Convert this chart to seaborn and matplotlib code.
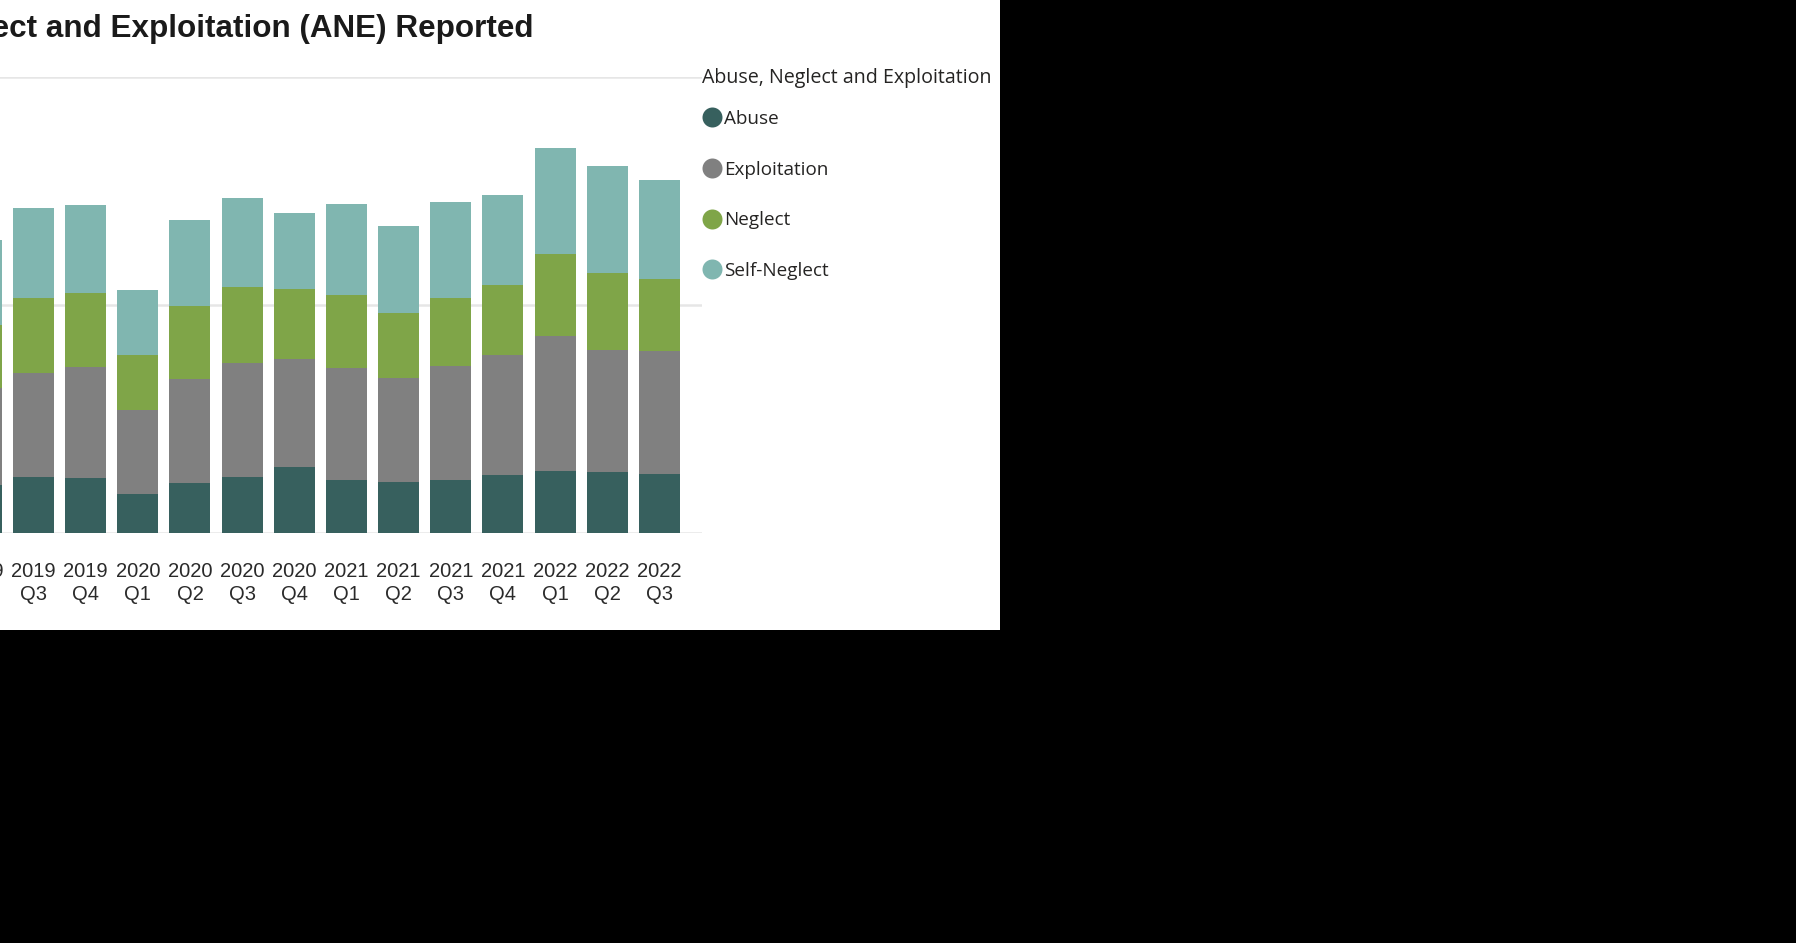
import numpy as np
import pandas as pd
import matplotlib
matplotlib.use("Agg")
import matplotlib.pyplot as plt
from matplotlib import font_manager as fm
from matplotlib.lines import Line2D
from matplotlib.patches import Rectangle
import seaborn as sns

# ---------------- data ----------------
quarters = ["2019 Q2", "2019 Q3", "2019 Q4", "2020 Q1", "2020 Q2", "2020 Q3", "2020 Q4",
            "2021 Q1", "2021 Q2", "2021 Q3", "2021 Q4", "2022 Q1", "2022 Q2", "2022 Q3"]
tick_labels = [q.replace(" ", "\n") for q in quarters]
abuse = [211, 247, 240, 171, 218, 247, 289, 232, 222, 231, 254, 273, 266, 260]
exploitation = [425, 456, 487, 368, 457, 500, 474, 493, 456, 503, 525, 591, 535, 539]
neglect = [276, 326, 325, 243, 320, 331, 306, 320, 288, 296, 307, 358, 339, 313]
self_neglect = [373, 397, 387, 281, 376, 392, 333, 397, 379, 421, 396, 465, 469, 436]
series_names = ["Abuse", "Exploitation", "Neglect", "Self-Neglect"]
series_colors = ["#37605e", "#808080", "#7fa548", "#80b6b0"]
y_ticks = [0, 1000, 2000]
chart_title = "Abuse, Neglect and Exploitation (ANE) Reported"
legend_title = "Abuse, Neglect and Exploitation"

# ---------------- fonts ----------------
names = {f.name for f in fm.fontManager.ttflist}
narrow = "Liberation Sans Narrow" in names
tick_family = "Liberation Sans Narrow" if narrow else "Liberation Sans"
tick_size = 15.4 if narrow else 14.5
leg_family = "Open Sans" if "Open Sans" in names else "DejaVu Sans"

sns.set_theme(style="white")
plt.rcParams["font.family"] = ["Liberation Sans", "DejaVu Sans"]

W, H, DPI = 1796, 943, 100
fig = plt.figure(figsize=(W / DPI, H / DPI), dpi=DPI, facecolor="black")

# white visible panel
fig.add_artist(Rectangle((0, 1 - 630 / H), 1000 / W, 630 / H, transform=fig.transFigure,
                         facecolor="white", edgecolor="none", zorder=0))

# axes (left part is cut off, as in the reference)
ax_left_px, ax_right_px = -49.97, 701.7
ax_top_px, ax_bot_px = 76.7, 533.0
ax = fig.add_axes([ax_left_px / W, 1 - ax_bot_px / H,
                   (ax_right_px - ax_left_px) / W, (ax_bot_px - ax_top_px) / H])
ax.set_facecolor("white")

df = pd.DataFrame({"quarter": quarters, "Abuse": abuse, "Exploitation": exploitation,
                   "Neglect": neglect, "Self-Neglect": self_neglect})
cum = df[series_names].cumsum(axis=1)

# draw stacked bars: tallest cumulative first, then the lower ones over it
for name, color in reversed(list(zip(series_names, series_colors))):
    sns.barplot(x=df["quarter"], y=cum[name], color=color, saturation=1,
                width=0.786, linewidth=0, ax=ax, zorder=2)

ax.set_xlim(-0.6, 13.809)
ax.set_ylim(0, 2000)
ax.set_yticks(y_ticks)
ax.yaxis.grid(True, color="#e6e6e6", linewidth=1.8)
ax.xaxis.grid(False)
ax.set_axisbelow(True)
for s in ax.spines.values():
    s.set_visible(False)
ax.set_xlabel("")
ax.set_ylabel("")
ax.set_xticks(range(len(quarters)))
ax.set_xticklabels(tick_labels, fontfamily=tick_family, fontsize=tick_size,
                   color="#2a2a2a", linespacing=1.25)
ax.tick_params(axis="x", length=0, pad=21.0)
ax.tick_params(axis="y", length=0, labelleft=False)

# title (cut off on the left)
fig.text(534 / W, 1 - 37 / H, chart_title, ha="right", va="baseline",
         fontsize=22.6, fontweight="bold", family="Liberation Sans", color="#1a1a1a")

# legend title
fig.text(702 / W, 1 - 77.5 / H, legend_title, ha="left", va="center",
         family=leg_family, fontsize=14.1, color="#252423")

# legend
handles = [Line2D([], [], marker="o", linestyle="", markersize=14.4,
                  markerfacecolor=c, markeredgewidth=0) for c in series_colors]
leg = ax.legend(handles, series_names, loc="upper left",
                bbox_to_anchor=(701 / W, 1 - 110 / H), bbox_transform=fig.transFigure,
                frameon=False, borderpad=0, borderaxespad=0, handlelength=1.13,
                handletextpad=0.08, labelspacing=1.73, alignment="left",
                prop=fm.FontProperties(family=leg_family, size=13.6))
for t in leg.get_texts():
    t.set_color("#252423")

fig.savefig("out.png", dpi=DPI, facecolor="black")
